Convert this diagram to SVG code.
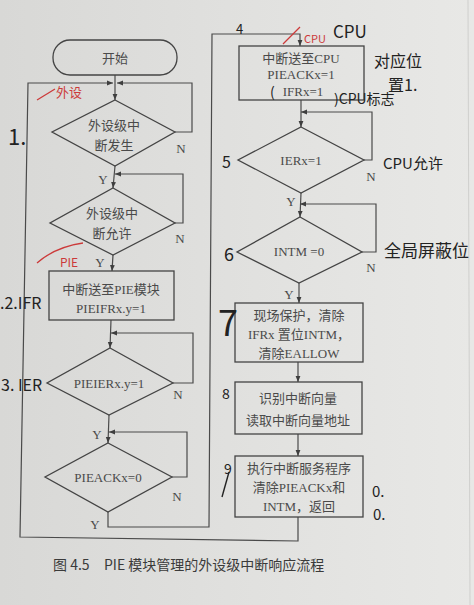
<svg xmlns="http://www.w3.org/2000/svg" width="474" height="605" viewBox="0 0 474 605">
<defs>
  <linearGradient id="bg" x1="0" y1="0" x2="1" y2="0">
    <stop offset="0" stop-color="#d8d8d6"/>
    <stop offset="0.6" stop-color="#e2e2e0"/>
    <stop offset="1" stop-color="#e8e8e6"/>
  </linearGradient>
  <marker id="ah" viewBox="0 0 10 10" refX="10" refY="5" markerWidth="6" markerHeight="6" orient="auto" markerUnits="userSpaceOnUse">
    <path d="M0,1 L10,5 L0,9 Z" fill="#3e3e3e"/>
  </marker>
  <style>
    .shape { fill: none; stroke: #444; stroke-width: 1.3; }
    .line { fill: none; stroke: #4a4a4a; stroke-width: 1.2; }
    .t { font-family: "Liberation Serif", "Noto Sans CJK SC", serif; font-size: 13px; fill: #4a4a4a; text-anchor: middle; dominant-baseline: central; }
    .yn { font-family: "Liberation Serif", serif; font-size: 13px; fill: #4a4a4a; text-anchor: middle; dominant-baseline: central; }
    .cap { font-family: "Noto Sans CJK SC", sans-serif; font-size: 14px; fill: #3a3a3a; dominant-baseline: central; }
    .hw { font-family: "Noto Sans CJK SC", "DejaVu Sans", sans-serif; fill: #222; dominant-baseline: central; }
    .red { font-family: "Noto Sans CJK SC", "DejaVu Sans", sans-serif; fill: #cc3a3a; dominant-baseline: central; }
    .rs { fill: none; stroke: #cc3a3a; stroke-width: 1.3; }
    .hs { fill: none; stroke: #222; stroke-width: 1.4; }
  </style>
</defs>
<rect x="0" y="0" width="474" height="605" fill="url(#bg)"/>
<line x1="468" y1="0" x2="470" y2="605" stroke="#cfcfcd" stroke-width="1"/>

<g id="connectors">
  <path class="line" d="M115,75 L115,100" marker-end="url(#ah)"/>
  <path class="line" d="M298,517 L298,541 L20,537 L28,83 L113,83" marker-end="url(#ah)"/>
  <path class="line" d="M175,132 L192,132 L192,83 L117,83" marker-end="url(#ah)"/>
  <path class="line" d="M115,166 L113,188" marker-end="url(#ah)"/>
  <path class="line" d="M175,223 L183,223 L183,174 L115,174" marker-end="url(#ah)"/>
  <path class="line" d="M113,255 L112,271" marker-end="url(#ah)"/>
  <path class="line" d="M111,320 L110,348" marker-end="url(#ah)"/>
  <path class="line" d="M173,383 L193,383 L193,333 L111,333" marker-end="url(#ah)"/>
  <path class="line" d="M109,415 L108,443" marker-end="url(#ah)"/>
  <path class="line" d="M172,477 L187,477 L187,432 L109,432" marker-end="url(#ah)"/>
  <path class="line" d="M108,512 L108,527 L209,527 L212,34 L300,34 L300,46" marker-end="url(#ah)"/>
  <path class="line" d="M301,100 L301,127" marker-end="url(#ah)"/>
  <path class="line" d="M364,160 L372,160 L372,112 L301,112" marker-end="url(#ah)"/>
  <path class="line" d="M301,193 L300,217" marker-end="url(#ah)"/>
  <path class="line" d="M362,252 L376,252 L376,204 L300,204" marker-end="url(#ah)"/>
  <path class="line" d="M299,283 L299,303" marker-end="url(#ah)"/>
  <path class="line" d="M298,362 L298,382" marker-end="url(#ah)"/>
  <path class="line" d="M298,434 L298,456" marker-end="url(#ah)"/>
</g>

<g id="start">
  <rect class="shape" x="53" y="40" width="124" height="35" rx="17" ry="17"/>
  <text class="t" x="115" y="58">开始</text>
</g>

<g id="d1">
  <polygon class="shape" points="115,100 175,132 115,166 52,132"/>
  <text class="t" x="114" y="125">外设级中</text>
  <text class="t" x="114" y="145">断发生</text>
  <text class="yn" x="181" y="148">N</text>
  <text class="yn" x="103" y="179">Y</text>
</g>

<g id="d2">
  <polygon class="shape" points="113,188 175,223 113,255 50,223"/>
  <text class="t" x="112" y="213">外设级中</text>
  <text class="t" x="112" y="233">断允许</text>
  <text class="yn" x="180" y="238">N</text>
  <text class="yn" x="100" y="262">Y</text>
</g>

<g id="boxPIE">
  <rect class="shape" x="49" y="271" width="125" height="49"/>
  <text class="t" x="111" y="289">中断送至PIE模块</text>
  <text class="t" x="111" y="308">PIEIFRx.y=1</text>
</g>

<g id="d3">
  <polygon class="shape" points="110,348 173,383 109,415 47,383"/>
  <text class="t" x="109" y="383">PIEIERx.y=1</text>
  <text class="yn" x="178" y="394">N</text>
  <text class="yn" x="97" y="434">Y</text>
</g>

<g id="d4">
  <polygon class="shape" points="108,443 172,477 108,512 45,477"/>
  <text class="t" x="108" y="477">PIEACKx=0</text>
  <text class="yn" x="177" y="496">N</text>
  <text class="yn" x="95" y="524">Y</text>
</g>

<g id="boxCPU">
  <rect class="shape" x="239" y="46" width="125" height="54"/>
  <text class="t" x="301" y="58">中断送至CPU</text>
  <text class="t" x="301" y="74">PIEACKx=1</text>
  <text class="t" x="303" y="91">IFRx=1</text>
</g>

<g id="dIER">
  <polygon class="shape" points="301,127 364,160 301,193 238,160"/>
  <text class="t" x="301" y="160">IERx=1</text>
  <text class="yn" x="371" y="176">N</text>
  <text class="yn" x="291" y="201">Y</text>
</g>

<g id="dINTM">
  <polygon class="shape" points="300,217 362,252 299,283 237,252"/>
  <text class="t" x="299" y="251">INTM =0</text>
  <text class="yn" x="371" y="267">N</text>
  <text class="yn" x="289" y="294">Y</text>
</g>

<g id="box3">
  <rect class="shape" x="235" y="303" width="128" height="59"/>
  <text class="t" x="299" y="315">现场保护，清除</text>
  <text class="t" x="299" y="334">IFRx 置位INTM，</text>
  <text class="t" x="299" y="353">清除EALLOW</text>
</g>

<g id="box4">
  <rect class="shape" x="235" y="382" width="127" height="52"/>
  <text class="t" x="298" y="398">识别中断向量</text>
  <text class="t" x="298" y="420">读取中断向量地址</text>
</g>

<g id="box5">
  <rect class="shape" x="235" y="456" width="128" height="61"/>
  <text class="t" x="299" y="468">执行中断服务程序</text>
  <text class="t" x="299" y="487">清除PIEACKx和</text>
  <text class="t" x="299" y="506">INTM，返回</text>
</g>

<text class="cap" y="564"><tspan x="53">图 4.5</tspan><tspan x="104">PIE 模块管理的外设级中断响应流程</tspan></text>

<g id="annotations">
  <text class="hw" x="8" y="135" font-size="22">1.</text>
  <text class="hw" x="0" y="302" font-size="16">.2.IFR</text>
  <text class="hw" x="1" y="384" font-size="16">3. IER</text>
  <text class="hw" x="236" y="28" font-size="13">4</text>
  <text class="hw" x="222" y="161" font-size="16">5</text>
  <text class="hw" x="224" y="253" font-size="18">6</text>
  <text class="hw" x="218" y="320" font-size="36">7</text>
  <text class="hw" x="222" y="393" font-size="14">8</text>
  <text class="hw" x="224" y="468" font-size="14">9</text>
  <path class="hs" d="M229,472 L222,497"/>
  <text class="hw" x="333" y="30" font-size="17">CPU</text>
  <text class="hw" x="374" y="60" font-size="16">对应位</text>
  <text class="hw" x="388" y="84" font-size="16">置1.</text>
  <text class="hw" x="270" y="91" font-size="14">(</text>
  <text class="hw" x="334" y="98" font-size="14">)CPU标志</text>
  <text class="hw" x="383" y="162" font-size="15">CPU允许</text>
  <text class="hw" x="384" y="249" font-size="17">全局屏蔽位</text>
  <text class="hw" x="372" y="490" font-size="15">0.</text>
  <text class="hw" x="373" y="513" font-size="15">0.</text>
  <text class="red" x="56" y="91" font-size="13">外设</text>
  <path class="rs" d="M37,100 L55,89"/>
  <text class="red" x="60" y="261" font-size="12">PIE</text>
  <path class="rs" d="M37,263 Q55,247 83,243"/>
  <text class="red" x="304" y="38" font-size="11">CPU</text>
  <path class="rs" d="M283,44 L300,27"/>
</g>
</svg>
